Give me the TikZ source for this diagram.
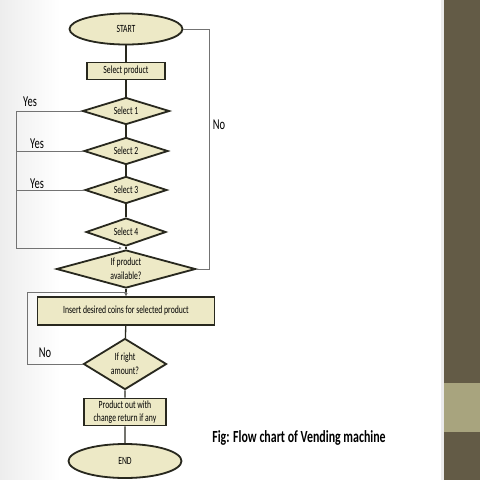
\documentclass[tikz,border=0pt]{standalone}
\usepackage{fontspec}
\setmainfont{Carlito}[FakeStretch=0.7]
\usetikzlibrary{shapes.geometric,shadows,arrows.meta}

\definecolor{boxfill}{RGB}{237,233,198}
\definecolor{banddark}{RGB}{99,91,70}
\definecolor{bandlight}{RGB}{168,164,126}
\definecolor{edgecol}{RGB}{40,40,30}

\tikzset{
  shapebase/.style={draw=edgecol,line width=1.8pt,fill=boxfill,inner sep=0pt,align=center,
    font=\fontsize{11}{14}\selectfont,
    drop shadow={shadow xshift=0.8pt,shadow yshift=-0.8pt,opacity=0.35}},
  term/.style={shapebase,ellipse,minimum width=113pt,minimum height=31pt},
  proc/.style={shapebase,rectangle},
  decide/.style={shapebase,diamond,aspect=3.2},
  flow/.style={draw=edgecol,line width=1.3pt},
  back/.style={draw=black!55,line width=0.8pt},
  tip/.style={-{Latex[length=3pt,width=3pt]}},
  lbl/.style={font=\fontsize{15}{16}\selectfont}
}

\begin{document}
\begin{tikzpicture}[x=1pt,y=-1pt]
  \useasboundingbox (0,0) rectangle (480,480);
  % slide background
  \shade[left color=black!7,right color=white] (0,0) rectangle (60,480);
  \fill[white!92!black] (441,0) rectangle (444,480);
  \fill[banddark] (444,0) rectangle (480,480);
  \fill[bandlight] (444,383) rectangle (480,432);

  % flow chart
  \node[term] (start) at (126,29) {START};
  \node[proc,minimum width=78pt,minimum height=17pt] (selp) at (126,71) {Select product};
  \node[decide,minimum width=87pt,minimum height=27pt] (s1) at (126,111) {Select 1};
  \node[decide,minimum width=84pt,minimum height=27pt] (s2) at (126,151) {Select 2};
  \node[decide,minimum width=82pt,minimum height=27pt] (s3) at (126,190) {Select 3};
  \node[decide,minimum width=80pt,minimum height=28pt] (s4) at (126,232) {Select 4};
  \node[decide,minimum width=139pt,minimum height=38pt] (avail) at (126,269) {If product\\available?};
  \node[proc,minimum width=177pt,minimum height=28pt] (coins) at (126,311) {Insert desired coins for selected product};
  \node[decide,aspect=1.6,minimum width=83pt,minimum height=51pt] (amount) at (125,364) {If right\\amount?};
  \node[proc,minimum width=82pt,minimum height=27pt,font=\fontsize{11}{13}\selectfont] (prod) at (125,412) {Product out with\\change return if any};
  \node[term,minimum height=34pt] (stop) at (125,461) {END};

  \draw[flow] (start) -- (selp) -- (s1) -- (s2) -- (s3) -- (s4) -- (avail);
  \draw[flow,tip] (avail) -- (coins);
  \draw[flow] (coins) -- (amount) -- (prod) -- (stop);

  % yes branches
  \coordinate (ycorner) at (16,248);
  \coordinate (yjoin) at (122,248);
  \draw[back,tip] (s1.west) -| (ycorner) -- (yjoin);
  \draw[back] (s2.west) -- (s2.west -| ycorner);
  \draw[back] (s3.west) -- (s3.west -| ycorner);
  \node[lbl] (yes1) at (30,102) {Yes};
  \node[lbl] (yes2) at (37,144) {Yes};
  \node[lbl] (yes3) at (37,184) {Yes};

  % no branches
  \coordinate (rno) at (209,269);
  \draw[back] (start.east) -| (rno) -- (avail.east);
  \node[lbl] (no1) at (219,125) {No};
  \coordinate (lno) at (27,292);
  \draw[back,tip] (amount.west) -| (lno) -| (coins.north);
  \node[lbl] (no2) at (45,353) {No};

  \node[font=\bfseries\fontsize{17}{19}\selectfont] (cap) at (299,438) {Fig: Flow chart of Vending machine};
\end{tikzpicture}
\end{document}
